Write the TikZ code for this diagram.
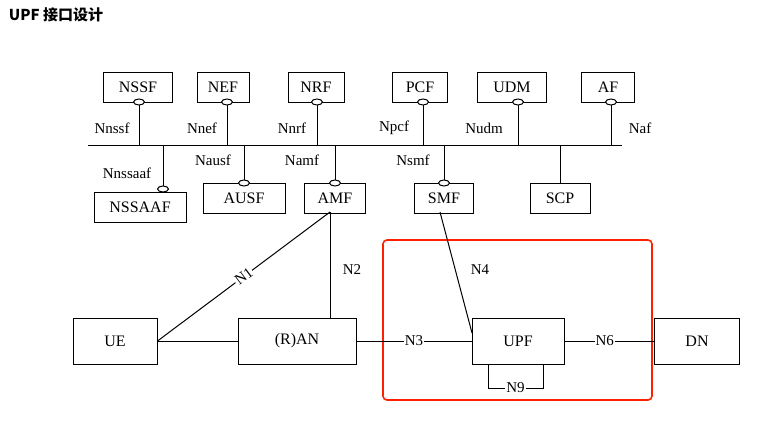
\documentclass[tikz,border=0pt]{standalone}
\usepackage{fontspec}
\setmainfont{Liberation Serif}
\newfontfamily\cjk{Noto Sans CJK SC}
\usetikzlibrary{shapes.geometric}
\begin{document}
\begin{tikzpicture}[
	x=1pt, y=-1pt, line width=1pt,
	nf/.style = {draw, rectangle, minimum height=30pt, inner sep=2pt, font=\fontsize{16}{16}\selectfont},
	big/.style = {draw, rectangle, minimum height=46pt, font=\fontsize{16}{16}\selectfont},
	port/.style = {draw, ellipse, fill=white, minimum width=11pt, minimum height=6pt, inner sep=0pt},
	lbl/.style = {font=\fontsize{15}{15}\selectfont, inner sep=1pt},
	onl/.style = {fill=white, font=\fontsize{15}{15}\selectfont, inner sep=1pt}
	]
	\useasboundingbox (0,0) rectangle (779,421);
	\node[anchor=west, font=\cjk\bfseries\fontsize{15}{15}\selectfont] (title) at (5,15) {UPF 接口设计};

	% upper services
	\node[nf, minimum width=69pt] (nssf) at (138,87) {NSSF};
	\node[nf, minimum width=52pt] (nef) at (223,87) {NEF};
	\node[nf, minimum width=56pt] (nrf) at (316,87) {NRF};
	\node[nf, minimum width=55pt] (pcf) at (420,87) {PCF};
	\node[nf, minimum width=69pt] (udm) at (512,87) {UDM};
	\node[nf, minimum width=53pt] (af) at (608,87) {AF};
	% lower services
	\node[nf, minimum width=92pt] (nssaaf) at (140,207) {NSSAAF};
	\node[nf, minimum width=82pt] (ausf) at (244,198) {AUSF};
	\node[nf, minimum width=61pt] (amf) at (335,198) {AMF};
	\node[nf, minimum width=59pt] (smf) at (444,198) {SMF};
	\node[nf, minimum width=60pt] (scp) at (560,198) {SCP};

	% service bus
	\coordinate (busl) at (88,145);
	\coordinate (busr) at (622,145);
	\draw (busl) -- (busr);

	\foreach \n/\x in {nssf/139, nef/227, nrf/317, pcf/423, udm/518, af/611}{
		\coordinate (\n bus) at (\x,145);
		\draw (\n bus) -- (\x,102) node[port] (\n port) {};
	}
	\foreach \n/\x/\y in {nssaaf/163/189, ausf/244/183, amf/335/183, smf/444/183}{
		\coordinate (\n bus) at (\x,145);
		\draw (\n bus) -- (\x,\y) node[port] (\n port) {};
	}
	\coordinate (scpbus) at (560,145);
	\draw (scpbus) -- (scp.north);

	\node[lbl] (lnssf) at (112,128) {Nnssf};
	\node[lbl] (lnef) at (202,128) {Nnef};
	\node[lbl] (lnrf) at (292,128) {Nnrf};
	\node[lbl] (lpcf) at (394,128) {Npcf};
	\node[lbl] (ludm) at (484,128) {Nudm};
	\node[lbl] (laf) at (640,128) {Naf};
	\node[lbl] (lnssaaf) at (127,173) {Nnssaaf};
	\node[lbl] (lausf) at (213,160) {Nausf};
	\node[lbl] (lamf) at (302,160) {Namf};
	\node[lbl] (lsmf) at (413,160) {Nsmf};

	% user plane
	\node[big, minimum width=84pt] (ue) at (115,341) {UE};
	\node[big, minimum width=118pt] (ran) at (297,341) {(R)AN};
	\node[big, minimum width=92pt] (upf) at (518,341) {UPF};
	\node[big, minimum width=85pt] (dn) at (697,341) {DN};

	\draw[red!75!orange, line width=1.6pt, rounded corners=4pt] (383,240) rectangle (652,400);

	\draw (ue.east) -- node[sloped, onl] {N1} (330,212);
	\draw (330,318) -- (330,212);
	\node[lbl] (ln2) at (352,270) {N2};
	\draw (440,212) -- (472,333);
	\node[lbl] (ln4) at (480,270) {N4};
	\draw (ue.east) -- (ran.west);
	\draw (ran.east) -- node[onl, pos=0.5] {N3} (upf.west);
	\draw (upf.east) -- node[onl, pos=0.45] {N6} (dn.west);
	\draw (488,364) |- node[onl, pos=0.75] {N9} (543,388) -- (543,364);
\end{tikzpicture}
\end{document}
